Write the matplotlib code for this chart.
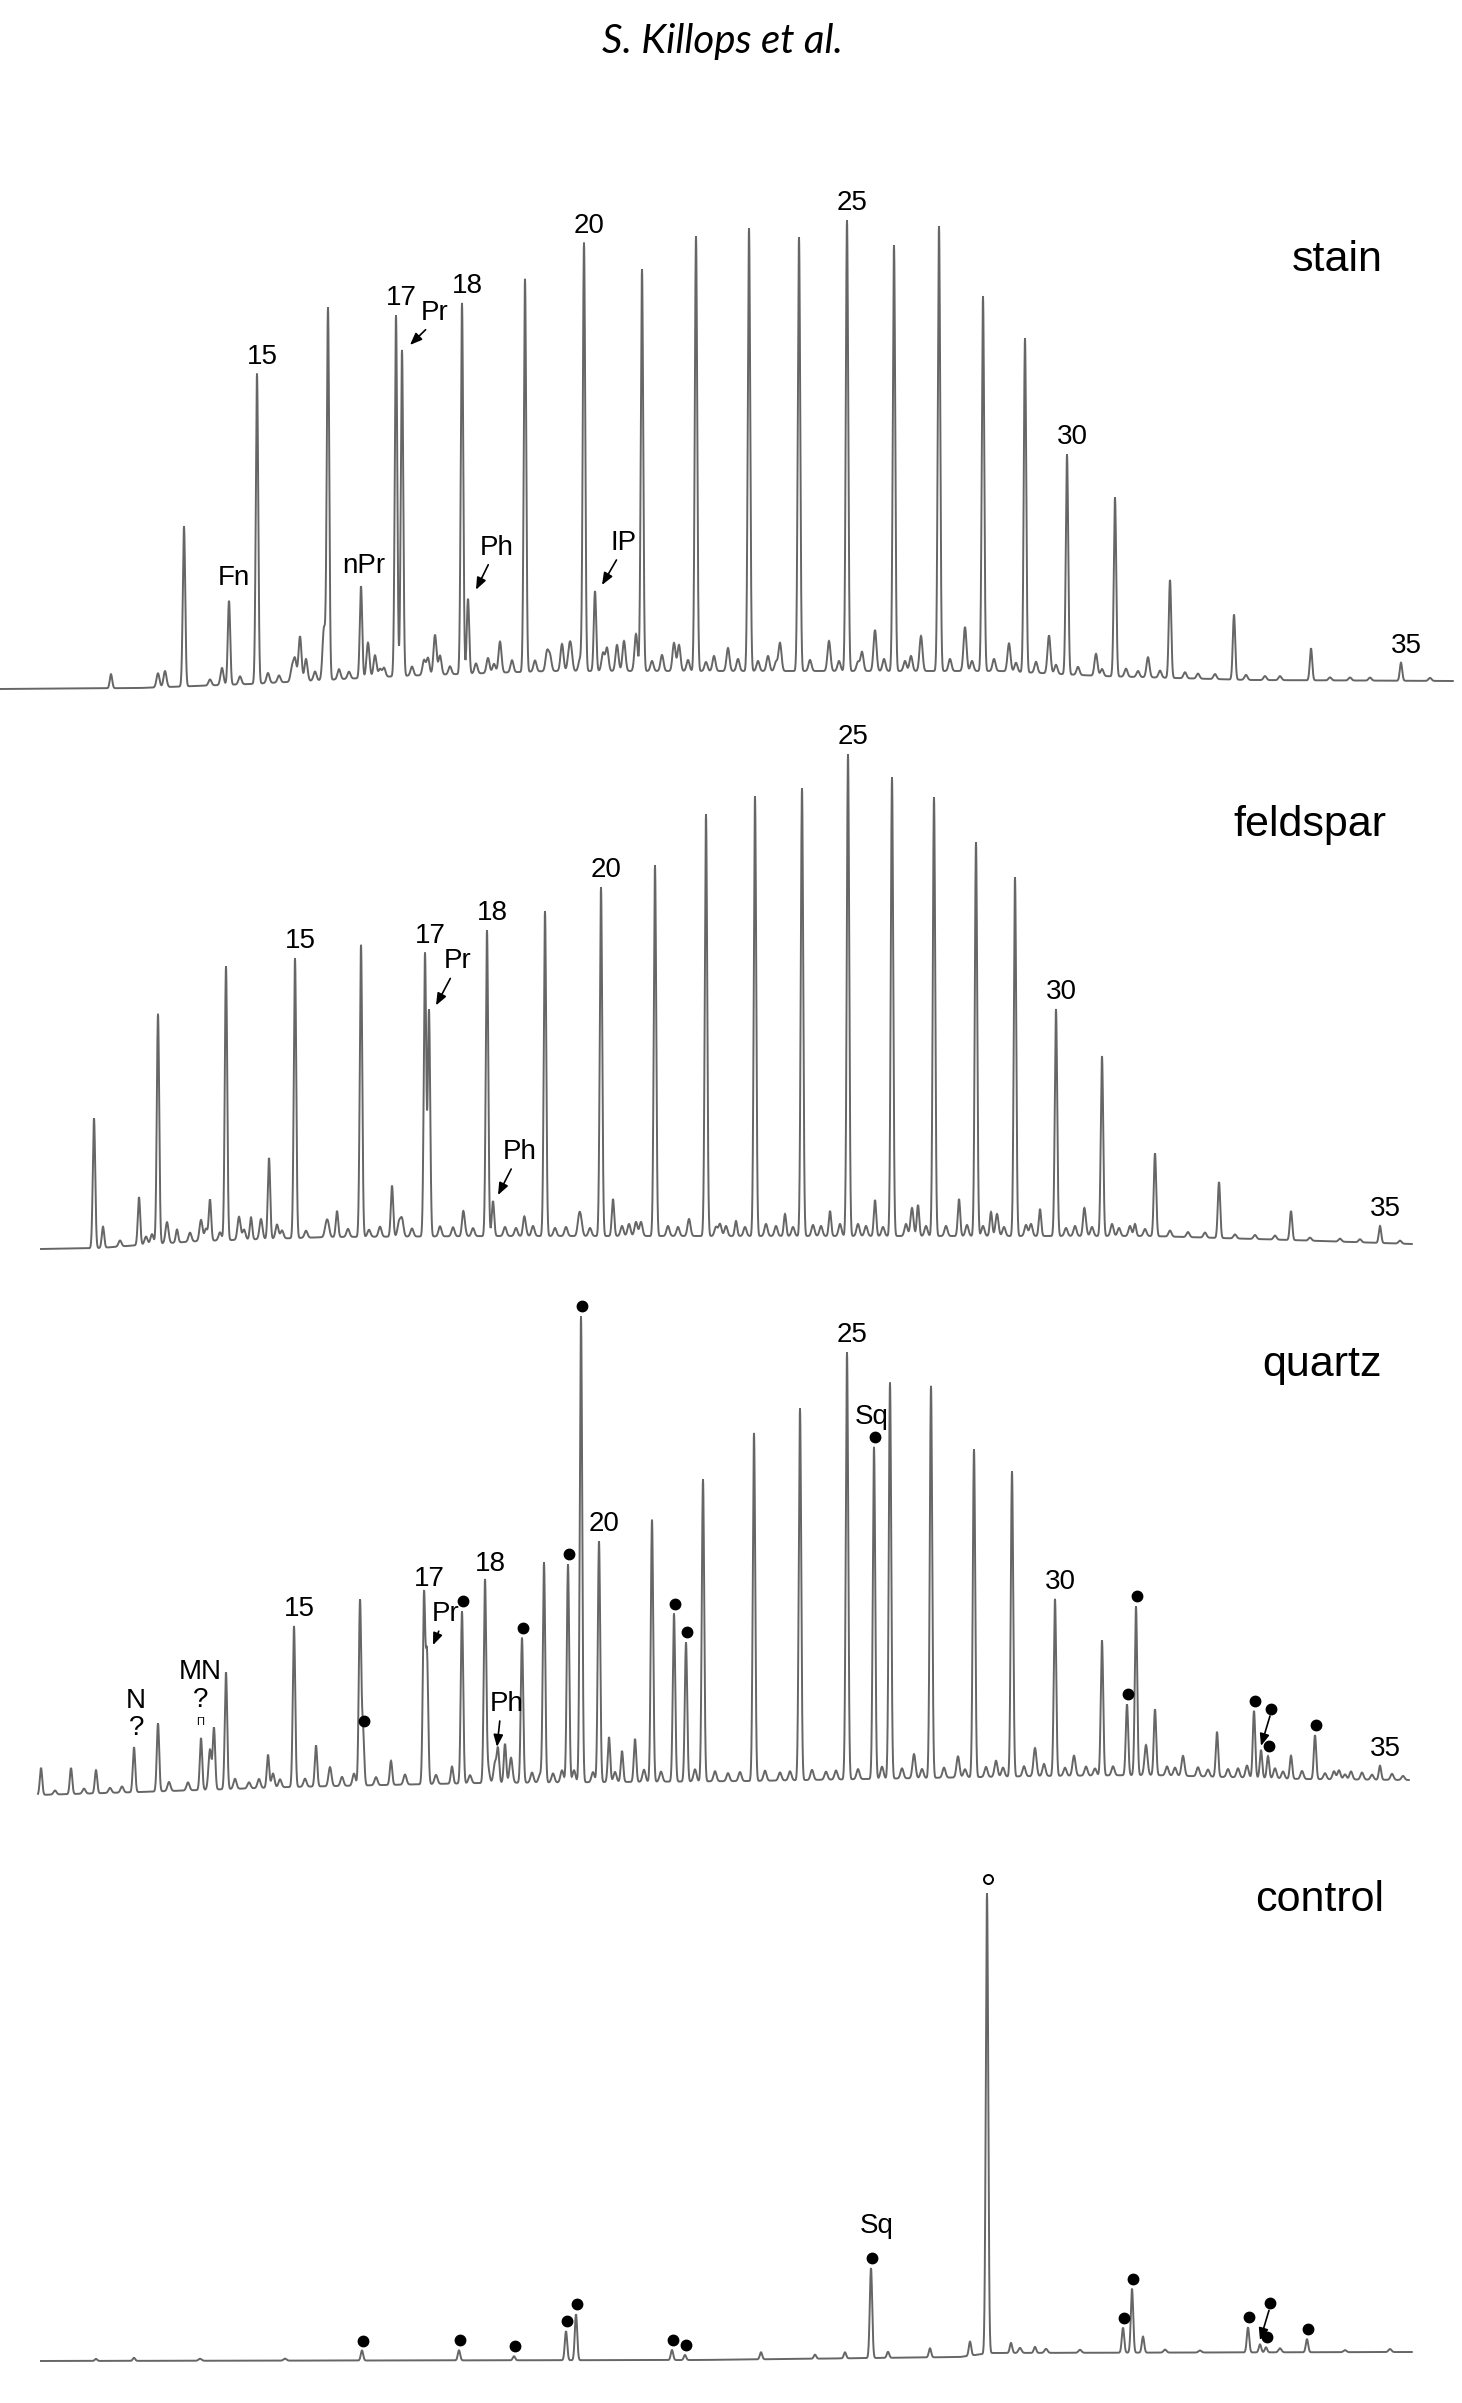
import numpy as np
import matplotlib.pyplot as plt
from matplotlib.transforms import offset_copy

plt.rcParams['font.family'] = ['Liberation Sans', 'DejaVu Sans']

# ---------------- data (retention position, arbitrary units; height above local baseline) ----
# stain
stain_rt = [11.1, 18.4, 22.9, 25.7, 32.8, 36.1, 39.6, 40.2, 46.2, 46.8, 52.5, 58.4, 59.5, 64.2,
            69.6, 74.9, 79.9, 84.7, 89.4, 93.9, 98.3, 102.5, 106.7, 111.5, 117.0, 123.4, 131.1, 140.1]
stain_h = [14, 160, 84, 310, 371, 92, 361, 326, 371, 75, 393, 428, 80, 402,
           435, 443, 434, 451, 426, 445, 375, 334, 220, 179, 98, 65, 32, 18]
stain_minor_rt = [15.8, 16.5, 21.0, 22.2, 29.2, 30.0, 30.6, 32.4, 36.8, 37.5, 42.8, 43.5, 48.8, 50.0,
                  55.0, 56.2, 56.9, 60.7, 61.7, 62.4, 63.6, 66.2, 67.4, 67.9, 72.8, 78.0, 82.9, 87.5,
                  92.1, 96.5, 99.4, 100.9, 104.9, 109.6, 114.8,
                  29.5, 38.4, 42.4, 44.0, 54.7, 57.1, 60.3, 71.4, 76.8, 86.2, 91.1, 24.0, 26.8, 27.9,
                  31.5, 33.9, 34.9, 38.0, 41.2, 45.0, 47.6, 49.4, 51.2, 53.5, 58.0, 65.2, 68.8, 70.6,
                  73.8, 75.8, 77.6, 81.0, 83.9, 85.8, 88.4, 90.5, 95.0, 97.2, 101.6, 103.6, 105.6,
                  107.8, 110.2, 112.6, 113.8, 116.0, 118.5, 119.8, 121.5, 124.6, 126.5, 128.0, 133.0,
                  135.0, 137.0, 143.0]
stain_minor_h = [14, 16, 6, 17, 14, 45, 22, 52, 35, 22, 17, 40, 15, 31,
                 15, 27, 17, 23, 26, 30, 37, 16, 28, 26, 23, 28, 30, 41,
                 35, 44, 12, 28, 38, 22, 20,
                 22, 9, 15, 19, 19, 20, 18, 15, 15, 19, 15, 8, 10, 7,
                 9, 10, 7, 8, 9, 8, 10, 9, 12, 11, 12, 10, 11, 9,
                 12, 10, 9, 11, 10, 9, 12, 10, 12, 10, 9, 11, 9,
                 8, 7, 8, 6, 7, 6, 5, 5, 5, 4, 4, 3,
                 3, 3, 3]
stain_base_x = [0.0, 14.0, 25.0, 40.0, 55.0, 100.0, 110.0, 125.0, 145.3]
stain_base_y = [0, 1, 5, 13, 18, 18, 13, 9, 8]
stain_nums = {'15': 25.7, '17': 39.6, '18': 46.2, '20': 58.4, '25': 84.7, '30': 106.7, '35': 140.1}
stain_cmpd = {'Fn': 22.9, 'nPr': 36.1, 'Pr': 40.2, 'Ph': 46.8, 'IP': 59.5}

# feldspar
feld_rt = [9.4, 10.3, 13.9, 15.8, 17.7, 21.0, 22.6, 25.1, 26.9, 29.5, 33.7, 36.1, 39.2, 42.5, 42.9,
           46.3, 48.7, 49.3, 52.4, 54.5, 60.1, 61.3, 65.5, 70.6, 73.6, 75.5, 78.5, 80.2, 83.0, 84.8,
           87.5, 89.2, 91.8, 93.4, 95.9, 97.6, 99.1, 101.5, 104.0, 105.6, 108.4, 110.2, 113.5, 115.5,
           121.9, 129.1, 138.0]
feld_h = [130, 21, 48, 230, 13, 41, 274, 22, 81, 280, 26, 292, 51, 283, 226,
          14, 306, 35, 11, 325, 349, 37, 371, 422, 15, 440, 22, 448, 25, 482,
          36, 459, 31, 439, 37, 394, 24, 359, 27, 227, 15, 180, 12, 83,
          56, 29, 17]
feld_minor_rt = [16.7, 20.1, 23.9, 27.7, 32.8, 39.9, 46.4, 52.5, 58.1, 62.2, 63.6, 68.9, 72.0,
                 91.2, 99.7, 108.5, 111.2, 113.0,
                 12.0, 14.6, 15.2, 19.0, 20.6, 22.0, 24.4, 26.1, 28.2, 30.6, 32.6, 34.8, 36.9, 38.0,
                 40.2, 41.2, 44.0, 45.3, 47.3, 50.5, 51.6, 53.3, 55.5, 56.6, 57.9, 59.0, 62.9, 64.1,
                 66.8, 67.8, 71.6, 72.6, 74.5, 76.6, 77.6, 79.3, 81.3, 82.1, 84.0, 85.8, 86.6,
                 88.3, 90.6, 92.6, 94.6, 96.7, 98.3, 100.4, 102.6, 103.1, 106.6, 107.5, 109.2,
                 111.9, 114.5, 117.0, 118.8, 120.5, 123.5, 125.5, 127.5, 131.0, 134.0, 136.0, 140.0]
feld_minor_h = [21, 21, 23, 14, 12, 14, 13, 10, 13, 10, 14, 17, 12,
                28, 22, 15, 12, 10,
                6, 8, 10, 9, 12, 8, 10, 20, 8, 7, 10, 8, 7, 10,
                17, 8, 10, 9, 8, 9, 8, 10, 8, 9, 17, 8, 12, 14,
                10, 9, 9, 10, 9, 12, 10, 9, 11, 10, 12, 12, 10,
                9, 12, 10, 10, 11, 10, 9, 11, 12, 8, 10, 9,
                8, 7, 6, 5, 5, 4, 4, 4, 3, 3, 3, 3]
feld_base_x = [4.1, 10.0, 14.0, 20.0, 33.0, 50.0, 100.0, 115.0, 129.0, 141.2]
feld_base_y = [0, 1, 4, 8, 12, 13, 13, 13, 9, 5]
feld_nums = {'15': 29.5, '17': 42.5, '18': 48.7, '20': 60.1, '25': 84.8, '30': 105.6, '35': 138.0}
feld_cmpd = {'Pr': 42.9, 'Ph': 49.3}

# quartz
quartz_rt = [4.1, 7.1, 9.6, 13.4, 15.8, 20.1, 21.4, 22.6, 26.8, 29.4, 31.6, 36.0, 36.3, 39.1, 42.4,
             42.7, 45.2, 46.2, 48.5, 49.8, 50.5, 52.2, 54.4, 56.8, 58.1, 59.9, 60.9, 62.2, 63.5, 65.2,
             67.4, 68.6, 70.3, 75.4, 80.0, 84.7, 87.4, 89.0, 93.1, 97.4, 101.2, 105.5, 110.2, 112.7,
             113.6, 115.5, 121.7, 125.4, 126.1, 126.8, 129.1, 131.5, 138.0]
quartz_h = [27, 26, 23, 45, 68, 52, 61, 117, 33, 161, 41, 184, 54, 24, 188,
            127, 17, 172, 202, 33, 39, 145, 220, 218, 466, 241, 45, 31, 43, 262,
            168, 139, 302, 348, 372, 427, 332, 396, 392, 328, 305, 177, 135, 71,
            169, 66, 45, 67, 28, 22, 23, 44, 14]
quartz_minor_rt = [21.0, 24.9, 27.3, 33.0, 35.4, 48.8, 49.5, 54.0, 56.2, 59.3, 91.4, 95.8, 99.6,
                   103.5, 107.4, 118.3, 133.9, 135.1,
                   5.5, 8.4, 11.0, 12.2, 16.9, 18.8, 23.5, 25.9, 28.0, 30.5, 34.2, 37.6, 40.5, 43.6,
                   47.0, 51.1, 53.2, 55.3, 57.4, 61.5, 64.4, 66.1, 69.5, 71.5, 72.8, 74.0, 76.5,
                   78.0, 79.0, 81.2, 82.6, 83.6, 85.8, 88.2, 90.2, 92.2, 94.4, 96.5, 98.6, 100.3,
                   102.4, 104.4, 106.5, 108.6, 109.5, 111.3, 114.6, 116.7, 117.5, 119.8, 120.8,
                   122.8, 123.8, 124.7, 127.5, 128.3, 130.2, 132.5, 133.4, 134.5, 136.2, 137.2,
                   139.2, 140.3]
quartz_minor_h = [40, 6, 14, 19, 12, 15, 20, 8, 12, 10, 24, 21, 16, 28, 20, 20, 9, 8,
                  4, 5, 5, 6, 9, 8, 10, 9, 8, 8, 9, 8, 10, 9,
                  8, 25, 10, 9, 12, 10, 12, 10, 12, 10, 8, 9, 10,
                  8, 9, 10, 8, 9, 10, 12, 10, 9, 10, 8, 10, 9,
                  10, 12, 8, 9, 7, 9, 30, 9, 8, 9, 7,
                  8, 9, 12, 10, 7, 8, 6, 8, 5, 7, 5,
                  6, 4]
quartz_base_x = [3.8, 14.0, 29.0, 48.0, 75.0, 104.0, 115.0, 130.0, 140.9]
quartz_base_y = [0, 3, 8, 12, 14, 19, 20, 16, 15]
quartz_nums = {'15': 29.4, '17': 42.4, '18': 48.5, '20': 59.9, '25': 84.7, '30': 105.5, '35': 138.0}
quartz_cmpd = {'Pr': 42.7, 'Ph': 49.8, 'Sq': 87.4}
quartz_dots = [36.3, 46.2, 52.2, 56.8, 58.1, 67.4, 68.6, 87.4, 112.7, 113.6, 125.4, 126.8, 131.5]
quartz_dot_arrow = 126.1

# control
control_rt = [9.6, 13.4, 36.2, 45.9, 51.4, 56.6, 57.6, 67.2, 68.5, 76.1, 81.5, 84.5, 87.1, 88.8,
              93.0, 97.0, 98.7, 101.1, 103.5, 112.3, 113.2, 114.3, 124.8, 126.0, 126.6, 130.7]
control_h = [2, 3, 10, 10, 4, 29, 46, 10, 5, 7, 4, 6, 90, 6,
             9, 14, 460, 10, 6, 25, 64, 16, 25, 8, 5, 13]
control_minor_rt = [20.0, 28.5, 102.0, 104.6, 108.0, 116.5, 120.0, 128.0, 134.5, 139.0]
control_minor_h = [2, 2, 5, 4, 3, 3, 2, 4, 2, 3]
control_base_x = [4.1, 70.0, 96.0, 99.0, 141.2]
control_base_y = [0, 1, 4, 8, 9]
control_cmpd = {'Sq': 87.1}
control_dots = [36.2, 45.9, 51.4, 56.6, 57.6, 67.2, 68.5, 87.1, 112.3, 113.2, 124.8, 126.6, 130.7]
control_dot_arrow = 126.0
control_open = 98.7

# ---------------- layout (figure pixels) ----------------
W, H = 1462, 2403
fig = plt.figure(figsize=(W / 100, H / 100), dpi=100)

fig.text(722 / W, 1 - 41 / H, 'S. Killops et al.', ha='center', va='center',
         fontsize=29, style='italic', family=['Lato', 'DejaVu Sans'])

panels = [
    dict(name='stain', base=689, top=110, bottom=700, name_xy=(1337, 260),
         rt=stain_rt, h=stain_h, mrt=stain_minor_rt, mh=stain_minor_h,
         bx=stain_base_x, by=stain_base_y, nums=stain_nums, cmpd=stain_cmpd),
    dict(name='feldspar', base=1249, top=705, bottom=1262, name_xy=(1310, 825),
         rt=feld_rt, h=feld_h, mrt=feld_minor_rt, mh=feld_minor_h,
         bx=feld_base_x, by=feld_base_y, nums=feld_nums, cmpd=feld_cmpd),
    dict(name='quartz', base=1795, top=1265, bottom=1808, name_xy=(1322, 1365),
         rt=quartz_rt, h=quartz_h, mrt=quartz_minor_rt, mh=quartz_minor_h,
         bx=quartz_base_x, by=quartz_base_y, nums=quartz_nums, cmpd=quartz_cmpd,
         dots=quartz_dots, dot_arrow=quartz_dot_arrow),
    dict(name='control', base=2361, top=1820, bottom=2385, name_xy=(1320, 1900),
         rt=control_rt, h=control_h, mrt=control_minor_rt, mh=control_minor_h,
         bx=control_base_x, by=control_base_y, nums={}, cmpd=control_cmpd,
         dots=control_dots, dot_arrow=control_dot_arrow, open=control_open),
]

# label offsets in pixels from the peak top: (text dx, text dy, arrow tip dx, dy or None)
cmpd_layout = {
    ('stain', 'Fn'): (5, 23, None), ('stain', 'nPr'): (3, 20, None),
    ('stain', 'Pr'): (33, 37, (8, 5)), ('stain', 'Ph'): (29, 51, (8, 9)),
    ('stain', 'IP'): (29, 48, (7, 6)),
    ('feldspar', 'Pr'): (29, 49, (7, 5)), ('feldspar', 'Ph'): (27, 49, (5, 6)),
    ('quartz', 'Pr'): (19, 43, (6, 12)), ('quartz', 'Ph'): (9, 46, (-1, 3)),
    ('quartz', 'Sq'): (-2, 30, None),
    ('control', 'Sq'): (6, 42, None),
}

LINE = '#666666'
FS = 20
arrow_kw = dict(arrowstyle='-|>,head_length=0.45,head_width=0.18', color='black',
                lw=1.2, shrinkA=1, shrinkB=0, mutation_scale=16, relpos=(0.3, 0.0))


def trace(grid, p):
    y = np.interp(grid, p['bx'], p['by'])
    for r, a in zip(p['rt'], p['h']):
        y = y + a * np.exp(-0.5 * ((grid - r) / 0.12) ** 2)
    for r, a in zip(p['mrt'], p['mh']):
        y = y + a * np.exp(-0.5 * ((grid - r) / 0.15) ** 2)
    return y


for p in panels:
    ax = fig.add_axes([0, 1 - p['bottom'] / H, 1, (p['bottom'] - p['top']) / H])
    ax.set_xlim(0, 146.2)
    ax.set_ylim(p['base'] - p['bottom'], p['base'] - p['top'])
    ax.axis('off')

    grid = np.arange(p['bx'][0], p['bx'][-1], 0.02)
    ax.plot(grid, trace(grid, p), color=LINE, lw=1.4, solid_joinstyle='miter')

    hmap = dict(zip(p['rt'], p['h']))

    def top(r):
        return np.interp(r, p['bx'], p['by']) + hmap[r]

    def shifted(dx, dy):
        return offset_copy(ax.transData, fig=fig, x=dx, y=dy, units='dots')

    for txt, r in p['nums'].items():
        ax.annotate(txt, xy=(r, top(r)), xytext=(5, 17), textcoords='offset pixels',
                    ha='center', va='center', fontsize=FS)

    for txt, r in p['cmpd'].items():
        tdx, tdy, tip = cmpd_layout[(p['name'], txt)]
        if tip is None:
            ax.annotate(txt, xy=(r, top(r)), xytext=(tdx, tdy), textcoords='offset pixels',
                        ha='center', va='center', fontsize=FS)
        else:
            ax.annotate(txt, xy=(r, top(r)), xycoords=shifted(*tip),
                        xytext=(tdx - tip[0], tdy - tip[1]), textcoords='offset pixels',
                        ha='center', va='center', fontsize=FS, arrowprops=arrow_kw)

    for r in p.get('dots', []):
        ax.plot(r, top(r), 'o', color='black', ms=7.5, transform=shifted(1, 10))

    if 'dot_arrow' in p:
        r = p['dot_arrow']
        ax.annotate('', xy=(r, top(r)), xycoords=shifted(0, 4), xytext=(9, 30),
                    textcoords='offset pixels',
                    arrowprops=dict(arrow_kw, relpos=(0.5, 0.5), shrinkA=0))
        ax.plot(r, top(r), 'o', color='black', ms=7.5, transform=shifted(10, 41))

    if 'open' in p:
        r = p['open']
        ax.plot(r, top(r), 'o', mfc='white', mec='black', mew=1.4, ms=6.5,
                transform=shifted(1, 14))

    fig.text(p['name_xy'][0] / W, 1 - p['name_xy'][1] / H, p['name'],
             ha='center', va='center', fontsize=31)

# quartz: unresolved early compounds
axq = fig.axes[2]
qh = dict(zip(quartz_rt, quartz_h))
for r, parts in [(13.4, [('N', 2, 46), ('?', 3, 19)]),
                 (20.1, [('MN', -1, 66), ('?', 0, 38)])]:
    y0 = np.interp(r, quartz_base_x, quartz_base_y) + qh[r]
    for txt, dx, dy in parts:
        axq.annotate(txt, xy=(r, y0), xytext=(dx, dy), textcoords='offset pixels',
                     ha='center', va='center', fontsize=FS)
axq.annotate('\u03a0', xy=(20.1, np.interp(20.1, quartz_base_x, quartz_base_y) + qh[20.1]),
             xytext=(-1, 16), textcoords='offset pixels', ha='center', va='center', fontsize=8)

fig.savefig('out.png', dpi=100)
